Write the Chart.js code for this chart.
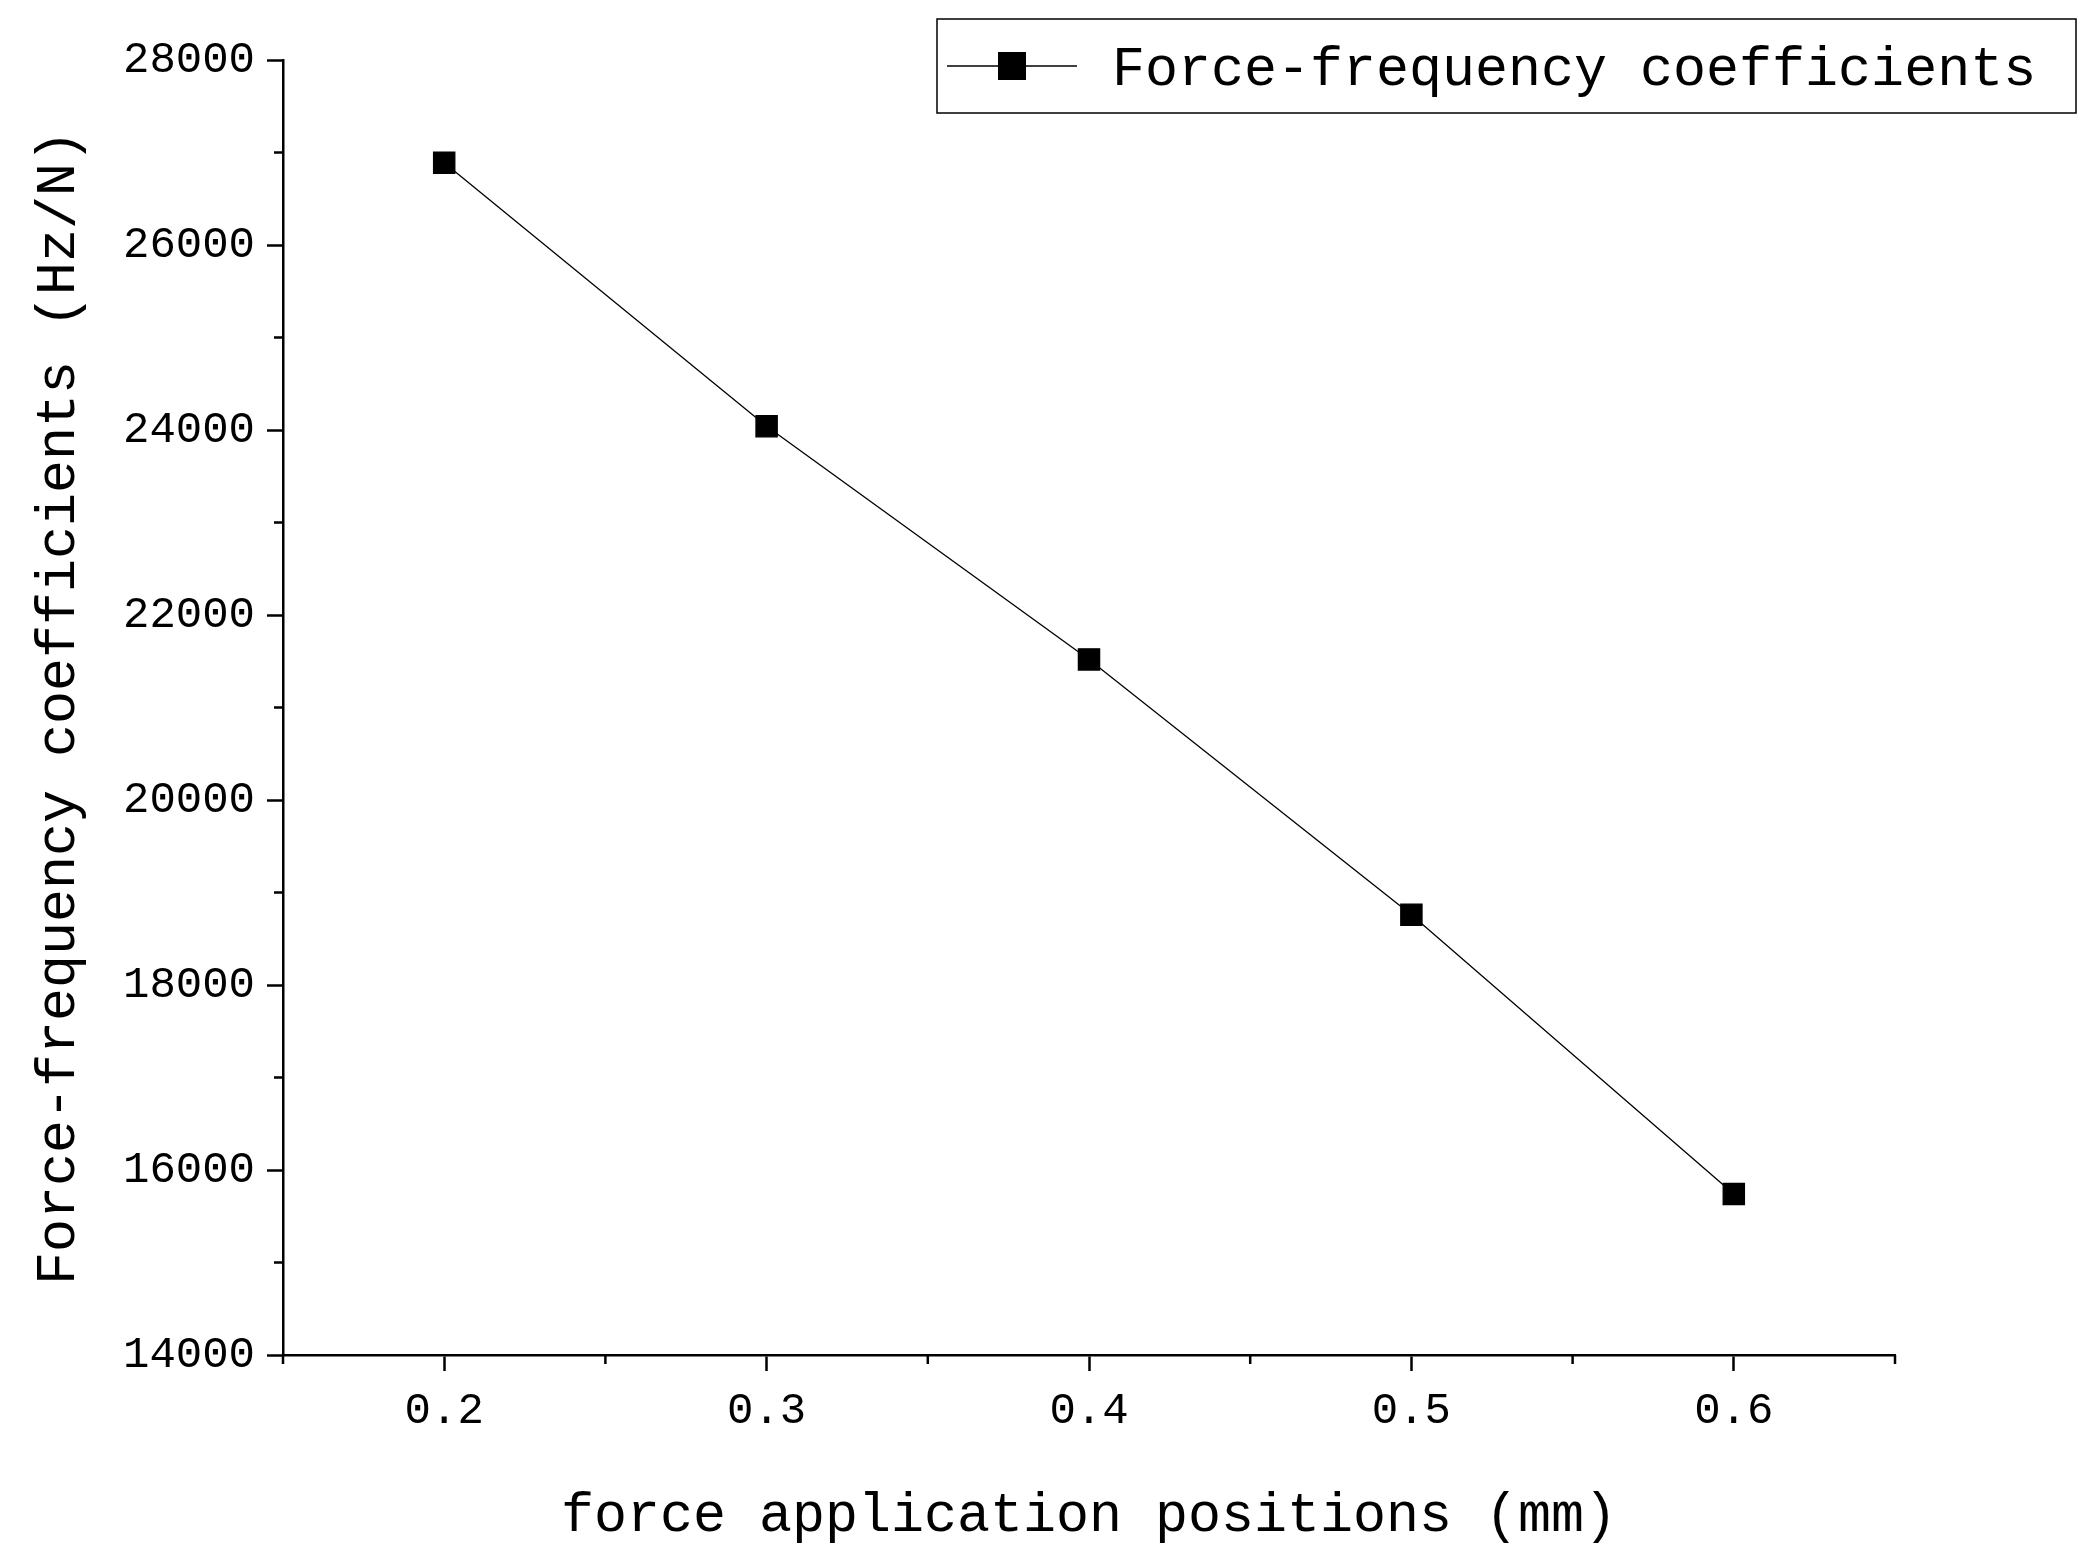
<!DOCTYPE html>
<html>
<head>
<meta charset="utf-8">
<script src="https://cdn.jsdelivr.net/npm/chart.js@4.4.0/dist/chart.umd.min.js"></script>
<style>
  html, body { margin: 0; padding: 0; background: #fff; }
  #wrap { width: 2095px; height: 1553px; }
</style>
</head>
<body>
<div id="wrap"><canvas id="c" width="2095" height="1553"></canvas></div>
<script>
const positions = [0.2, 0.3, 0.4, 0.5, 0.6];
const coefficients = [26890, 24040, 21520, 18760, 15740];
const seriesLabel = 'Force-frequency coefficients';
const xTitle = 'force application positions (mm)';
const yTitle = 'Force-frequency coefficients (Hz/N)';
const FONT = '"Liberation Mono", "DejaVu Sans Mono", monospace';

// minor ticks and the legend box, drawn outside the plot like the original
const extras = {
    id: 'extras',
    afterDraw(chart) {
        const ctx = chart.ctx;
        const x = chart.scales.x, y = chart.scales.y;
        ctx.save();
        ctx.strokeStyle = '#000';
        ctx.lineWidth = 2.5;
        ctx.beginPath();
        for (let v = 0.15; v < 0.651; v += 0.1) {
            const px = x.getPixelForValue(v);
            ctx.moveTo(px, y.bottom);
            ctx.lineTo(px, y.bottom + 9);
        }
        for (let v = 15000; v < 28000; v += 2000) {
            const py = y.getPixelForValue(v);
            ctx.moveTo(x.left, py);
            ctx.lineTo(x.left - 9, py);
        }
        ctx.stroke();

        // legend
        const bx = 937, by = 19, bw = 1139, bh = 94;
        ctx.lineWidth = 1.5;
        ctx.strokeRect(bx, by, bw, bh);
        const my = by + bh / 2;
        ctx.lineWidth = 1.3;
        ctx.beginPath();
        ctx.moveTo(bx + 10, my);
        ctx.lineTo(bx + 140, my);
        ctx.stroke();
        ctx.fillStyle = '#000';
        ctx.fillRect(bx + 75 - 14, my - 14, 28, 28);
        ctx.font = '55px ' + FONT;
        ctx.textBaseline = 'middle';
        ctx.fillText(chart.data.datasets[0].label, bx + 175, my + 4);
        ctx.restore();
    }
};

new Chart(document.getElementById('c'), {
    type: 'line',
    data: {
        datasets: [{
            label: seriesLabel,
            data: positions.map((p, i) => ({ x: p, y: coefficients[i] })),
            borderColor: '#000',
            borderWidth: 1.3,
            pointStyle: 'rect',
            pointRadius: 15,
            pointBackgroundColor: '#000',
            pointBorderColor: '#000',
            tension: 0
        }]
    },
    options: {
        responsive: false,
        animation: false,
        layout: { padding: { top: 60, right: 200, left: 22, bottom: 0 } },
        plugins: { legend: { display: false }, tooltip: { enabled: false } },
        scales: {
            x: {
                type: 'linear',
                min: 0.15, max: 0.65,
                afterBuildTicks(s) { s.ticks = positions.map(v => ({ value: v })); },
                afterFit(s) { s.height = 198; },
                grid: { drawOnChartArea: false, tickLength: 16, tickWidth: 2.5, tickColor: '#000' },
                border: { color: '#000', width: 2.5 },
                ticks: { color: '#000', font: { family: FONT, size: 44 }, padding: 14,
                         callback: v => v.toFixed(1) },
                title: { display: true, text: xTitle, color: '#000', padding: { top: 14 },
                         font: { family: FONT, size: 55 } }
            },
            y: {
                min: 14000, max: 28000,
                afterBuildTicks(s) {
                    s.ticks = [];
                    for (let v = 14000; v <= 28000; v += 2000) s.ticks.push({ value: v });
                },
                afterFit(s) { s.width = 261; },
                grid: { drawOnChartArea: false, tickLength: 16, tickWidth: 2.5, tickColor: '#000' },
                border: { color: '#000', width: 2.5 },
                ticks: { color: '#000', font: { family: FONT, size: 44 }, padding: 12,
                         callback: v => String(v) },
                title: { display: true, text: yTitle, color: '#000', padding: { bottom: 6 },
                         font: { family: FONT, size: 55 } }
            }
        }
    },
    plugins: [extras]
});
</script>
</body>
</html>
